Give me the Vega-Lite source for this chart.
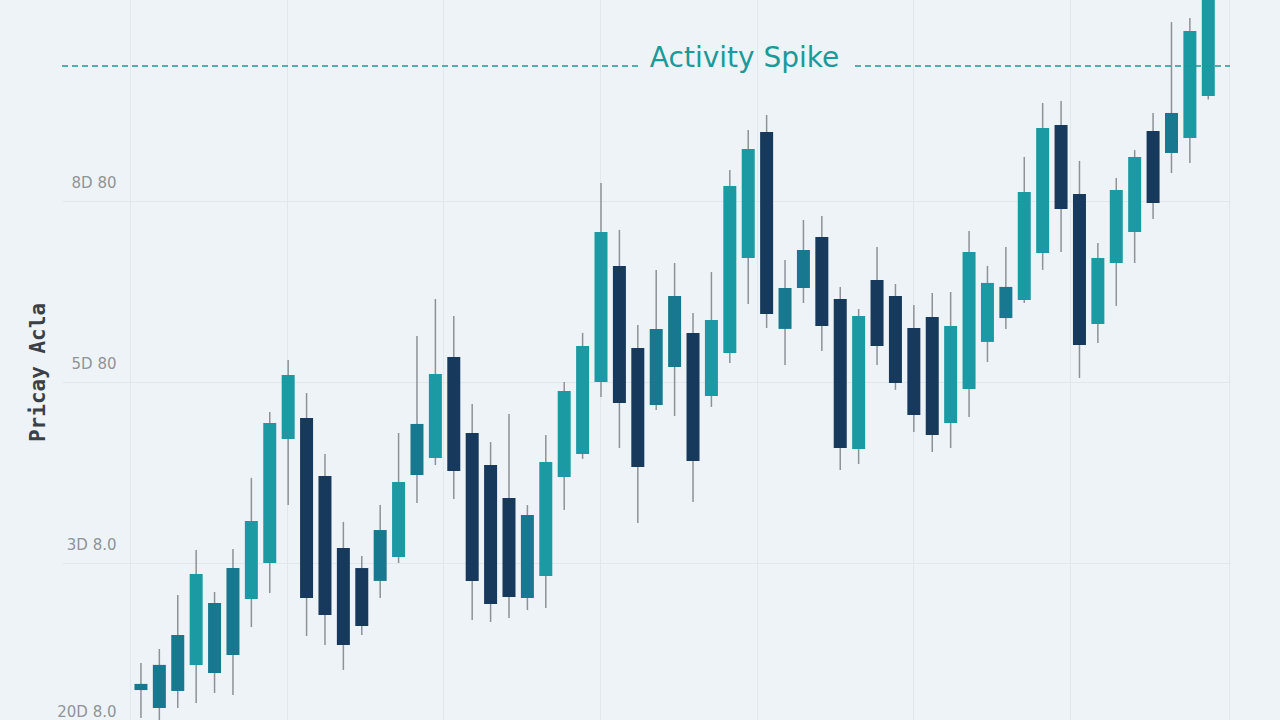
{
  "$schema": "https://vega.github.io/schema/vega-lite/v6.json",
  "width": 1168,
  "height": 720,
  "autosize": {"type": "none"},
  "padding": {"left": 62, "top": 0, "right": 50, "bottom": 0},
  "background": "#eef3f8",
  "config": {"view": {"stroke": null}},
  "datasets": {
    "candles": [
      {"day": 0, "open": 229.8, "high": 244.8, "low": 214.4, "close": 233.2, "trend": "consolidation"},
      {"day": 1, "open": 219.9, "high": 252.5, "low": 210.5, "close": 243.7, "trend": "consolidation"},
      {"day": 2, "open": 229.3, "high": 282.3, "low": 219.9, "close": 260.2, "trend": "consolidation"},
      {"day": 3, "open": 243.7, "high": 307.2, "low": 222.7, "close": 293.9, "trend": "bullish"},
      {"day": 4, "open": 239.2, "high": 284.0, "low": 228.2, "close": 277.9, "trend": "consolidation"},
      {"day": 5, "open": 249.2, "high": 307.7, "low": 227.1, "close": 297.2, "trend": "consolidation"},
      {"day": 6, "open": 280.1, "high": 347.0, "low": 264.6, "close": 323.2, "trend": "bullish"},
      {"day": 7, "open": 300.0, "high": 383.4, "low": 283.4, "close": 377.3, "trend": "bullish"},
      {"day": 8, "open": 368.5, "high": 412.1, "low": 332.0, "close": 403.9, "trend": "bullish"},
      {"day": 9, "open": 380.1, "high": 393.9, "low": 259.7, "close": 280.7, "trend": "bearish"},
      {"day": 10, "open": 348.1, "high": 360.2, "low": 254.7, "close": 271.3, "trend": "bearish"},
      {"day": 11, "open": 308.3, "high": 322.7, "low": 240.9, "close": 254.7, "trend": "bearish"},
      {"day": 12, "open": 297.2, "high": 303.9, "low": 260.2, "close": 265.2, "trend": "bearish"},
      {"day": 13, "open": 290.1, "high": 332.0, "low": 280.7, "close": 318.2, "trend": "consolidation"},
      {"day": 14, "open": 303.3, "high": 371.8, "low": 300.0, "close": 344.7, "trend": "bullish"},
      {"day": 15, "open": 348.6, "high": 425.4, "low": 333.1, "close": 376.8, "trend": "consolidation"},
      {"day": 16, "open": 358.0, "high": 445.8, "low": 354.1, "close": 404.4, "trend": "bullish"},
      {"day": 17, "open": 413.8, "high": 436.4, "low": 335.4, "close": 350.8, "trend": "bearish"},
      {"day": 18, "open": 371.8, "high": 387.8, "low": 268.5, "close": 290.1, "trend": "bearish"},
      {"day": 19, "open": 354.1, "high": 366.8, "low": 267.4, "close": 277.4, "trend": "bearish"},
      {"day": 20, "open": 335.9, "high": 382.3, "low": 269.6, "close": 281.2, "trend": "bearish"},
      {"day": 21, "open": 280.7, "high": 332.0, "low": 274.0, "close": 326.5, "trend": "consolidation"},
      {"day": 22, "open": 292.8, "high": 370.7, "low": 275.1, "close": 355.8, "trend": "bullish"},
      {"day": 23, "open": 347.5, "high": 400.0, "low": 329.3, "close": 395.0, "trend": "bullish"},
      {"day": 24, "open": 360.2, "high": 427.1, "low": 357.5, "close": 419.9, "trend": "bullish"},
      {"day": 25, "open": 400.0, "high": 509.9, "low": 391.7, "close": 482.8, "trend": "bullish"},
      {"day": 26, "open": 464.1, "high": 484.0, "low": 363.5, "close": 388.4, "trend": "bearish"},
      {"day": 27, "open": 418.8, "high": 431.5, "low": 322.1, "close": 353.0, "trend": "bearish"},
      {"day": 28, "open": 387.3, "high": 461.9, "low": 384.5, "close": 429.3, "trend": "consolidation"},
      {"day": 29, "open": 408.3, "high": 465.7, "low": 381.2, "close": 447.5, "trend": "consolidation"},
      {"day": 30, "open": 427.1, "high": 438.1, "low": 333.7, "close": 356.3, "trend": "bearish"},
      {"day": 31, "open": 392.2, "high": 460.7, "low": 386.2, "close": 434.2, "trend": "bullish"},
      {"day": 32, "open": 416.0, "high": 517.1, "low": 410.5, "close": 508.3, "trend": "bullish"},
      {"day": 33, "open": 468.5, "high": 539.2, "low": 443.1, "close": 528.7, "trend": "bullish"},
      {"day": 34, "open": 538.1, "high": 547.5, "low": 429.8, "close": 437.5, "trend": "bearish"},
      {"day": 35, "open": 429.3, "high": 467.4, "low": 409.4, "close": 451.9, "trend": "consolidation"},
      {"day": 36, "open": 451.9, "high": 489.5, "low": 443.6, "close": 472.9, "trend": "consolidation"},
      {"day": 37, "open": 480.1, "high": 491.7, "low": 417.1, "close": 430.9, "trend": "bearish"},
      {"day": 38, "open": 445.8, "high": 452.5, "low": 351.4, "close": 363.5, "trend": "bearish"},
      {"day": 39, "open": 363.0, "high": 440.3, "low": 354.7, "close": 436.4, "trend": "bullish"},
      {"day": 40, "open": 456.3, "high": 474.6, "low": 409.4, "close": 419.9, "trend": "bearish"},
      {"day": 41, "open": 447.5, "high": 454.1, "low": 395.6, "close": 399.4, "trend": "bearish"},
      {"day": 42, "open": 429.8, "high": 442.5, "low": 372.4, "close": 381.8, "trend": "bearish"},
      {"day": 43, "open": 435.9, "high": 449.2, "low": 361.3, "close": 370.7, "trend": "bearish"},
      {"day": 44, "open": 377.3, "high": 449.7, "low": 363.5, "close": 430.9, "trend": "bullish"},
      {"day": 45, "open": 396.1, "high": 483.4, "low": 380.6, "close": 471.8, "trend": "bullish"},
      {"day": 46, "open": 422.1, "high": 464.1, "low": 411.0, "close": 454.7, "trend": "bullish"},
      {"day": 47, "open": 435.3, "high": 474.6, "low": 429.3, "close": 452.5, "trend": "consolidation"},
      {"day": 48, "open": 445.3, "high": 524.3, "low": 443.6, "close": 504.9, "trend": "bullish"},
      {"day": 49, "open": 471.2, "high": 554.1, "low": 461.9, "close": 540.3, "trend": "bullish"},
      {"day": 50, "open": 542.0, "high": 555.2, "low": 471.8, "close": 495.5, "trend": "bearish"},
      {"day": 51, "open": 503.8, "high": 522.1, "low": 402.2, "close": 420.4, "trend": "bearish"},
      {"day": 52, "open": 432.0, "high": 476.8, "low": 421.5, "close": 468.5, "trend": "bullish"},
      {"day": 53, "open": 465.7, "high": 512.7, "low": 442.0, "close": 506.0, "trend": "bullish"},
      {"day": 54, "open": 482.8, "high": 528.1, "low": 465.7, "close": 524.3, "trend": "bullish"},
      {"day": 55, "open": 538.6, "high": 548.6, "low": 490.0, "close": 498.9, "trend": "bearish"},
      {"day": 56, "open": 526.5, "high": 598.8, "low": 515.4, "close": 548.6, "trend": "consolidation"},
      {"day": 57, "open": 534.8, "high": 601.1, "low": 521.0, "close": 593.9, "trend": "bullish"},
      {"day": 58, "open": 558.0, "high": 630.0, "low": 556.0, "close": 622.0, "trend": "bullish"}
    ],
    "levels": [
      {"start": -4.29, "end": 27.1, "level": 574.5},
      {"start": 38.8, "end": 59.18, "level": 574.5}
    ],
    "labels": [
      {"day": 32.8, "level": 574.5, "text": "Activity Spike"}
    ]
  },
  "layer": [
    {
      "data": {"name": "candles"},
      "mark": {"type": "rule", "color": "#8d9297", "strokeWidth": 1.5, "clip": true},
      "encoding": {
        "x": {
          "field": "day", "type": "quantitative",
          "scale": {"domain": [-4.29, 59.18], "nice": false, "zero": false, "padding": 0},
          "axis": {"title": null, "labels": false, "ticks": false, "domain": false, "grid": true, "gridColor": "#e0e7ed", "gridWidth": 1,
                   "values": [-0.6, 7.93, 16.41, 24.95, 33.48, 41.96, 50.49, 59.1]}
        },
        "y": {
          "field": "low", "type": "quantitative",
          "scale": {"domain": [200, 611], "range": [744, 0], "nice": false, "zero": false, "padding": 0},
          "axis": {
            "title": "Pricay Acla",
            "values": [200, 300, 400, 500],
            "labelExpr": "datum.value == 500 ? '8D 80' : datum.value == 400 ? '5D 80' : datum.value == 300 ? '3D 8.0' : '20D 8.0'",
            "grid": true, "gridColor": "#e0e7ed", "gridWidth": 1,
            "domain": false, "ticks": false,
            "labelOffset": {"condition": {"test": "datum.value == 200", "value": -33}, "value": -18},
            "offset": -56, "labelPadding": 2,
            "labelFont": "DejaVu Sans", "labelFontSize": 15, "labelColor": "#8e949a",
            "titleFont": "DejaVu Sans Mono", "titleFontSize": 21, "titleFontWeight": 600, "titleColor": "#3a4047", "titlePadding": 8
          }
        },
        "y2": {"field": "high"}
      }
    },
    {
      "data": {"name": "candles"},
      "mark": {"type": "bar", "width": 13, "clip": true},
      "encoding": {
        "x": {"field": "day", "type": "quantitative"},
        "y": {"field": "open", "type": "quantitative"},
        "y2": {"field": "close"},
        "color": {
          "field": "trend", "type": "nominal",
          "scale": {"domain": ["bullish", "consolidation", "bearish"], "range": ["#1b9aa3", "#17788f", "#16395c"]},
          "legend": null
        }
      }
    },
    {
      "data": {"name": "levels"},
      "mark": {"type": "rule", "color": "#1a9a96", "strokeWidth": 1.5, "strokeDash": [6, 4]},
      "encoding": {
        "x": {"field": "start", "type": "quantitative"},
        "x2": {"field": "end"},
        "y": {"field": "level", "type": "quantitative"}
      }
    },
    {
      "data": {"name": "labels"},
      "mark": {"type": "text", "font": "DejaVu Sans", "fontSize": 28, "fontWeight": "normal", "color": "#1a9a98", "baseline": "middle", "align": "center", "dy": -7},
      "encoding": {
        "x": {"field": "day", "type": "quantitative"},
        "y": {"field": "level", "type": "quantitative"},
        "text": {"field": "text"}
      }
    }
  ]
}
